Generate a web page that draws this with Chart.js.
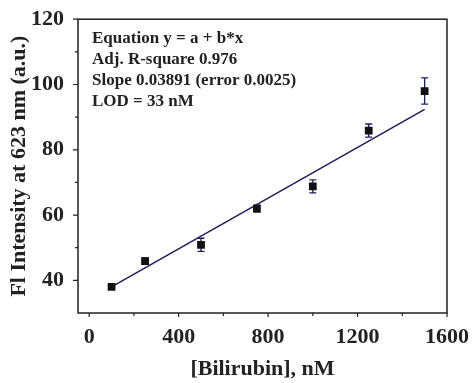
<!DOCTYPE html>
<html><head><meta charset="utf-8">
<script src="https://cdn.jsdelivr.net/npm/chart.js@4"></script>
<style>html,body{margin:0;padding:0;background:#fff}#wrap{width:474px;height:383px}</style>
</head><body><div id="wrap"><canvas id="c" width="474" height="383"></canvas></div>
<script>
const concentrations = [100, 250, 500, 750, 1000, 1250, 1500];
const intensities = [38.0, 45.9, 50.9, 62.0, 68.8, 85.9, 98.0];
const errors = [0.5, 1.0, 2.0, 1.0, 2.0, 2.0, 4.0];
const fitX = [100, 1500];
const fitY = [38.0, 92.4];
const xTicks = [0, 400, 800, 1200, 1600];
const xMinorTicks = [200, 600, 1000, 1400];
const yTicks = [40, 60, 80, 100, 120];
const yMinorTicks = [50, 70, 90, 110];
const annotationLines = ['Equation y = a + b*x', 'Adj. R-square 0.976', 'Slope 0.03891 (error 0.0025)', 'LOD = 33 nM'];

const FONT = '"Liberation Serif", "Times New Roman", serif';
const navy = '#1e1e5a';

const framePlugin = {
  id: 'frame',
  beforeDatasetsDraw(chart) {
    const ctx = chart.ctx, xs = chart.scales.x, ys = chart.scales.y;
    ctx.save();
    ctx.strokeStyle = navy; ctx.lineWidth = 1.3;
    concentrations.forEach((x, i) => {
      const px = xs.getPixelForValue(x);
      const t = ys.getPixelForValue(intensities[i] + errors[i]);
      const b = ys.getPixelForValue(intensities[i] - errors[i]);
      ctx.beginPath();
      ctx.moveTo(px, t); ctx.lineTo(px, b);
      ctx.moveTo(px - 3.5, t); ctx.lineTo(px + 3.5, t);
      ctx.moveTo(px - 3.5, b); ctx.lineTo(px + 3.5, b);
      ctx.stroke();
    });
    ctx.restore();
  },
  afterDraw(chart) {
    const ctx = chart.ctx, a = chart.chartArea, xs = chart.scales.x, ys = chart.scales.y;
    ctx.save();
    ctx.strokeStyle = '#222'; ctx.lineWidth = 1.5;
    ctx.strokeRect(a.left, a.top, a.right - a.left, a.bottom - a.top);
    ctx.lineWidth = 1.2;
    ctx.beginPath();
    xTicks.forEach(v => { const p = xs.getPixelForValue(v); ctx.moveTo(p, a.bottom); ctx.lineTo(p, a.bottom + 4); });
    xMinorTicks.forEach(v => { const p = xs.getPixelForValue(v); ctx.moveTo(p, a.bottom); ctx.lineTo(p, a.bottom + 3); });
    yTicks.forEach(v => { const p = ys.getPixelForValue(v); ctx.moveTo(a.left, p); ctx.lineTo(a.left - 5, p); });
    yMinorTicks.forEach(v => { const p = ys.getPixelForValue(v); ctx.moveTo(a.left, p); ctx.lineTo(a.left - 3, p); });
    ctx.stroke();
    ctx.fillStyle = '#222';
    ctx.font = 'bold 17px ' + FONT;
    ctx.textBaseline = 'alphabetic';
    annotationLines.forEach((s, i) => ctx.fillText(s, a.left + 14, 43 + i * 21));
    ctx.restore();
  }
};

new Chart(document.getElementById('c'), {
  data: {
    datasets: [
      { type: 'line', data: fitX.map((x, i) => ({x, y: fitY[i]})), borderColor: navy, borderWidth: 1.5, pointRadius: 0, fill: false, order: 2 },
      { type: 'scatter', data: concentrations.map((x, i) => ({x, y: intensities[i]})), pointStyle: 'rect', pointRadius: 5.5, backgroundColor: '#111', borderColor: '#111', borderWidth: 0, order: 1 }
    ]
  },
  options: {
    responsive: false, animation: false,
    layout: { padding: { top: 12, right: 27, left: 0, bottom: 0 } },
    plugins: { legend: { display: false }, tooltip: { enabled: false } },
    scales: {
      x: {
        type: 'linear', min: -50, max: 1600,
        afterBuildTicks(s) { s.ticks = xTicks.map(v => ({value: v})); },
        afterFit(s) { s.height = 70; },
        grid: { display: false }, border: { display: false },
        ticks: { color: '#222', font: { family: FONT, weight: 'bold', size: 22 }, padding: 3, maxRotation: 0, autoSkip: false, callback: v => String(v) },
        title: { display: true, text: '[Bilirubin], nM', color: '#222', font: { family: FONT, weight: 'bold', size: 22 }, padding: { top: 4, bottom: 0 } }
      },
      y: {
        type: 'linear', min: 30, max: 120,
        afterBuildTicks(s) { s.ticks = yTicks.map(v => ({value: v})); },
        afterFit(s) { s.width = 78; },
        grid: { display: false }, border: { display: false },
        ticks: { color: '#222', font: { family: FONT, weight: 'bold', size: 22 }, padding: 6, callback: v => String(v) },
        title: { display: true, text: 'Fl Intensity at 623 nm (a.u.)', color: '#222', font: { family: FONT, weight: 'bold', size: 22 }, padding: { top: 6, bottom: 4 } }
      }
    }
  },
  plugins: [framePlugin]
});
</script></body></html>
